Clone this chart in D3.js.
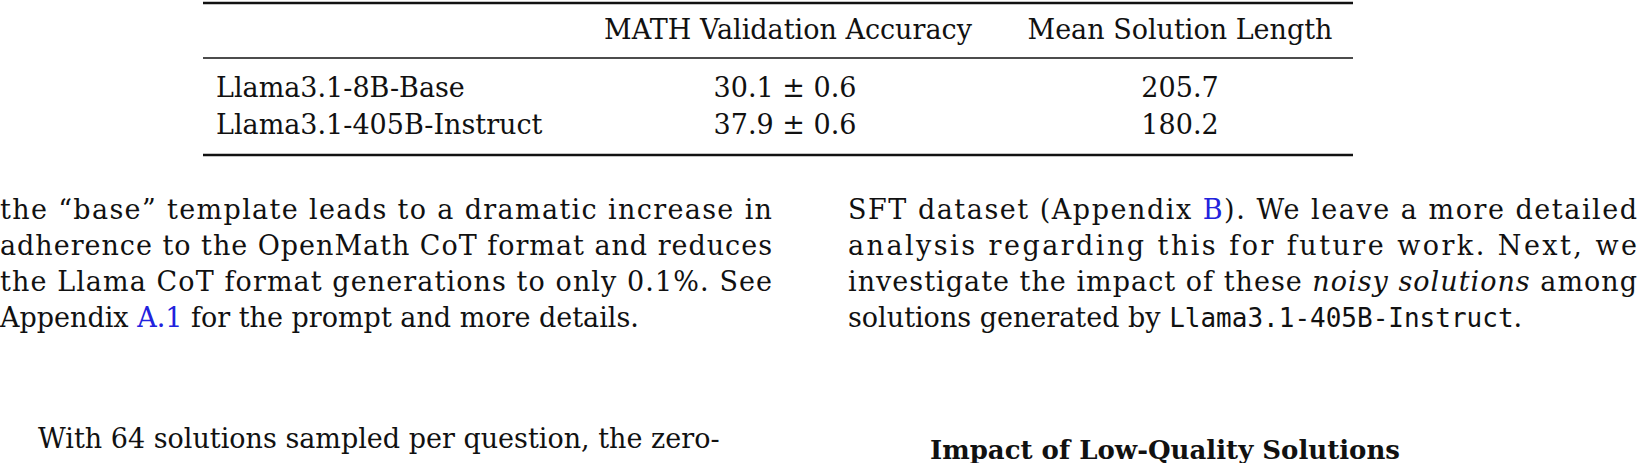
<!DOCTYPE html>
<html><head><meta charset="utf-8">
<script src="https://cdn.jsdelivr.net/npm/d3@7"></script>
<style>body{margin:0;background:#fff}svg text{font-family:"DejaVu Serif",serif;fill:#111}</style>
</head><body><div id="chart"></div>
<script>
// Table data
const columns = ["MATH Validation Accuracy", "Mean Solution Length"];
const models = ["Llama3.1-8B-Base", "Llama3.1-405B-Instruct"];
const accuracy = [30.1, 37.9];
const accuracyErr = [0.6, 0.6];
const solutionLength = [205.7, 180.2];

const W = 1637, H = 463, fs = 27;
const svg = d3.select("#chart").append("svg").attr("width", W).attr("height", H);

// column positions
const colX = { label: 216, [columns[0]]: 788, [columns[1]]: 1180 };
const y = d3.scaleBand().domain(models).range([70, 144]);

// rules
[[3, 2.5], [58, 1.3], [155, 2.5]].forEach(([yy, w]) =>
  svg.append("line").attr("x1", 203).attr("x2", 1353).attr("y1", yy).attr("y2", yy)
    .attr("stroke", "#111").attr("stroke-width", w));

svg.selectAll(".hdr").data(columns).join("text").attr("class", "hdr")
  .attr("x", d => colX[d]).attr("y", 39).attr("text-anchor", "middle")
  .style("font-size", fs + "px").text(d => d);

const row = svg.selectAll(".row").data(models).join("g").attr("class", "row")
  .attr("transform", d => `translate(0,${y(d) + y.bandwidth() / 2 + 8})`);
row.append("text").attr("x", colX.label).style("font-size", fs + "px").text(d => d);
row.append("text").attr("x", colX[columns[0]] - 3).attr("text-anchor", "middle").style("font-size", fs + "px")
  .text((d, i) => `${accuracy[i].toFixed(1)} ± ${accuracyErr[i].toFixed(1)}`);
row.append("text").attr("x", colX[columns[1]]).attr("text-anchor", "middle").style("font-size", fs + "px")
  .text((d, i) => solutionLength[i].toFixed(1));

// Body text: each line is a list of [text, style] pieces
const leftLines = [
  [["the “base” template leads to a dramatic increase in"]],
  [["adherence to the OpenMath CoT format and reduces"]],
  [["the Llama CoT format generations to only 0.1%. See"]],
  [["Appendix "], ["A.1", "link"], [" for the prompt and more details."]]
];
const rightLines = [
  [["SFT dataset (Appendix "], ["B", "link"], ["). We leave a more detailed"]],
  [["analysis regarding this for future work.  Next, we"]],
  [["investigate the impact of these "], ["noisy solutions", "it"], [" among"]],
  [["solutions generated by "], ["Llama3.1-405B-Instruct", "mono"], ["."]]
];

function para(lines, x0, x1, y0) {
  lines.forEach((pieces, i) => {
    const t = svg.append("text").attr("x", x0).attr("y", y0 + i * 36).style("font-size", fs + "px");
    if (i < lines.length - 1) t.attr("textLength", x1 - x0).attr("lengthAdjust", "spacing");
    pieces.forEach(([s, st]) => {
      const sp = t.append("tspan").text(s);
      if (st === "link") sp.style("fill", "#2222dd");
      if (st === "it") sp.style("font-style", "italic");
      if (st === "mono") sp.style("font-family", "'DejaVu Sans Mono',monospace").style("font-size", "26px");
    });
  });
}
para(leftLines, 0, 772, 219);
para(rightLines, 848, 1637, 219);

svg.append("text").attr("x", 38).attr("y", 448).style("font-size", fs + "px")
  .text("With 64 solutions sampled per question, the zero-");
svg.append("text").attr("x", 930).attr("y", 459).style("font-size", "26px").style("font-weight", "bold")
  .text("Impact of Low-Quality Solutions");
</script></body></html>
